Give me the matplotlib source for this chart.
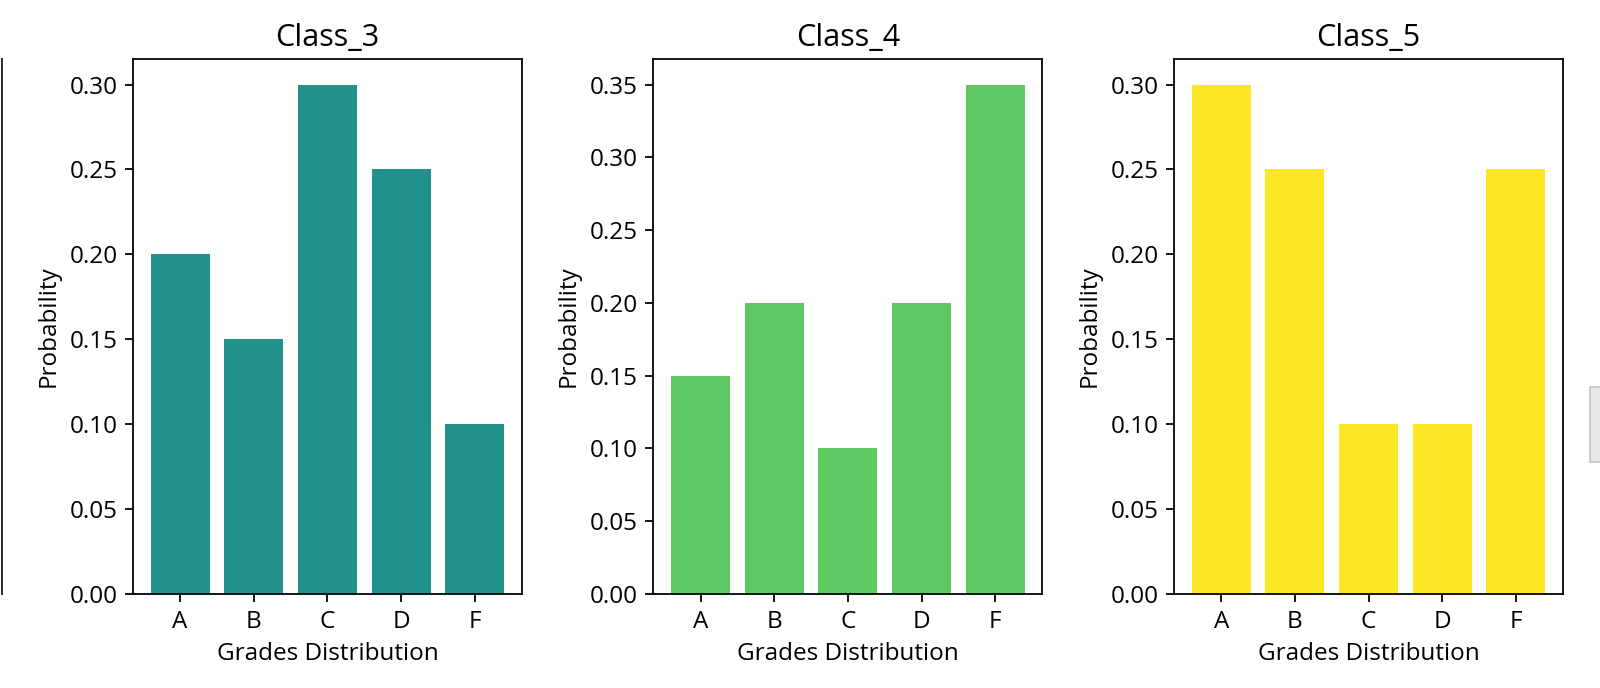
import numpy as np
import matplotlib
matplotlib.use("Agg")
import matplotlib.pyplot as plt
from matplotlib.lines import Line2D
from matplotlib.patches import Rectangle

grades = ['A', 'B', 'C', 'D', 'F']
class_names = ['Class_3', 'Class_4', 'Class_5']
class_3 = [0.20, 0.15, 0.30, 0.25, 0.10]
class_4 = [0.15, 0.20, 0.10, 0.20, 0.35]
class_5 = [0.30, 0.25, 0.10, 0.10, 0.25]
colors = ['#21918c', '#5ec962', '#fde725']

plt.rcParams['font.family'] = ['Open Sans', 'DejaVu Sans']
plt.rcParams['font.size'] = 10.9
plt.rcParams['axes.titlesize'] = 13.8

fig = plt.figure(figsize=(10, 4.3), dpi=160)

lefts = [0.0831, 0.4084, 0.7338]
for left, name, probs, c in zip(lefts, class_names, [class_3, class_4, class_5], colors):
    ax = fig.add_axes([left, 0.1366, 0.2431, 0.7776])
    ax.bar(grades, probs, color=c)
    ax.set_title(name)
    ax.set_xlabel('Grades Distribution')
    ax.set_ylabel('Probability')

# edge of the previous panel and a widget cut off at the right
fig.add_artist(Line2D([0.001, 0.001], [0.1366, 0.9142], color='#333333', lw=0.9))
fig.add_artist(Rectangle((0.9938, 0.3285), 0.02, 0.109, facecolor='#e8e8e8',
                         edgecolor='#c8c8c8', lw=0.8))

fig.savefig('out.png', dpi=160)
